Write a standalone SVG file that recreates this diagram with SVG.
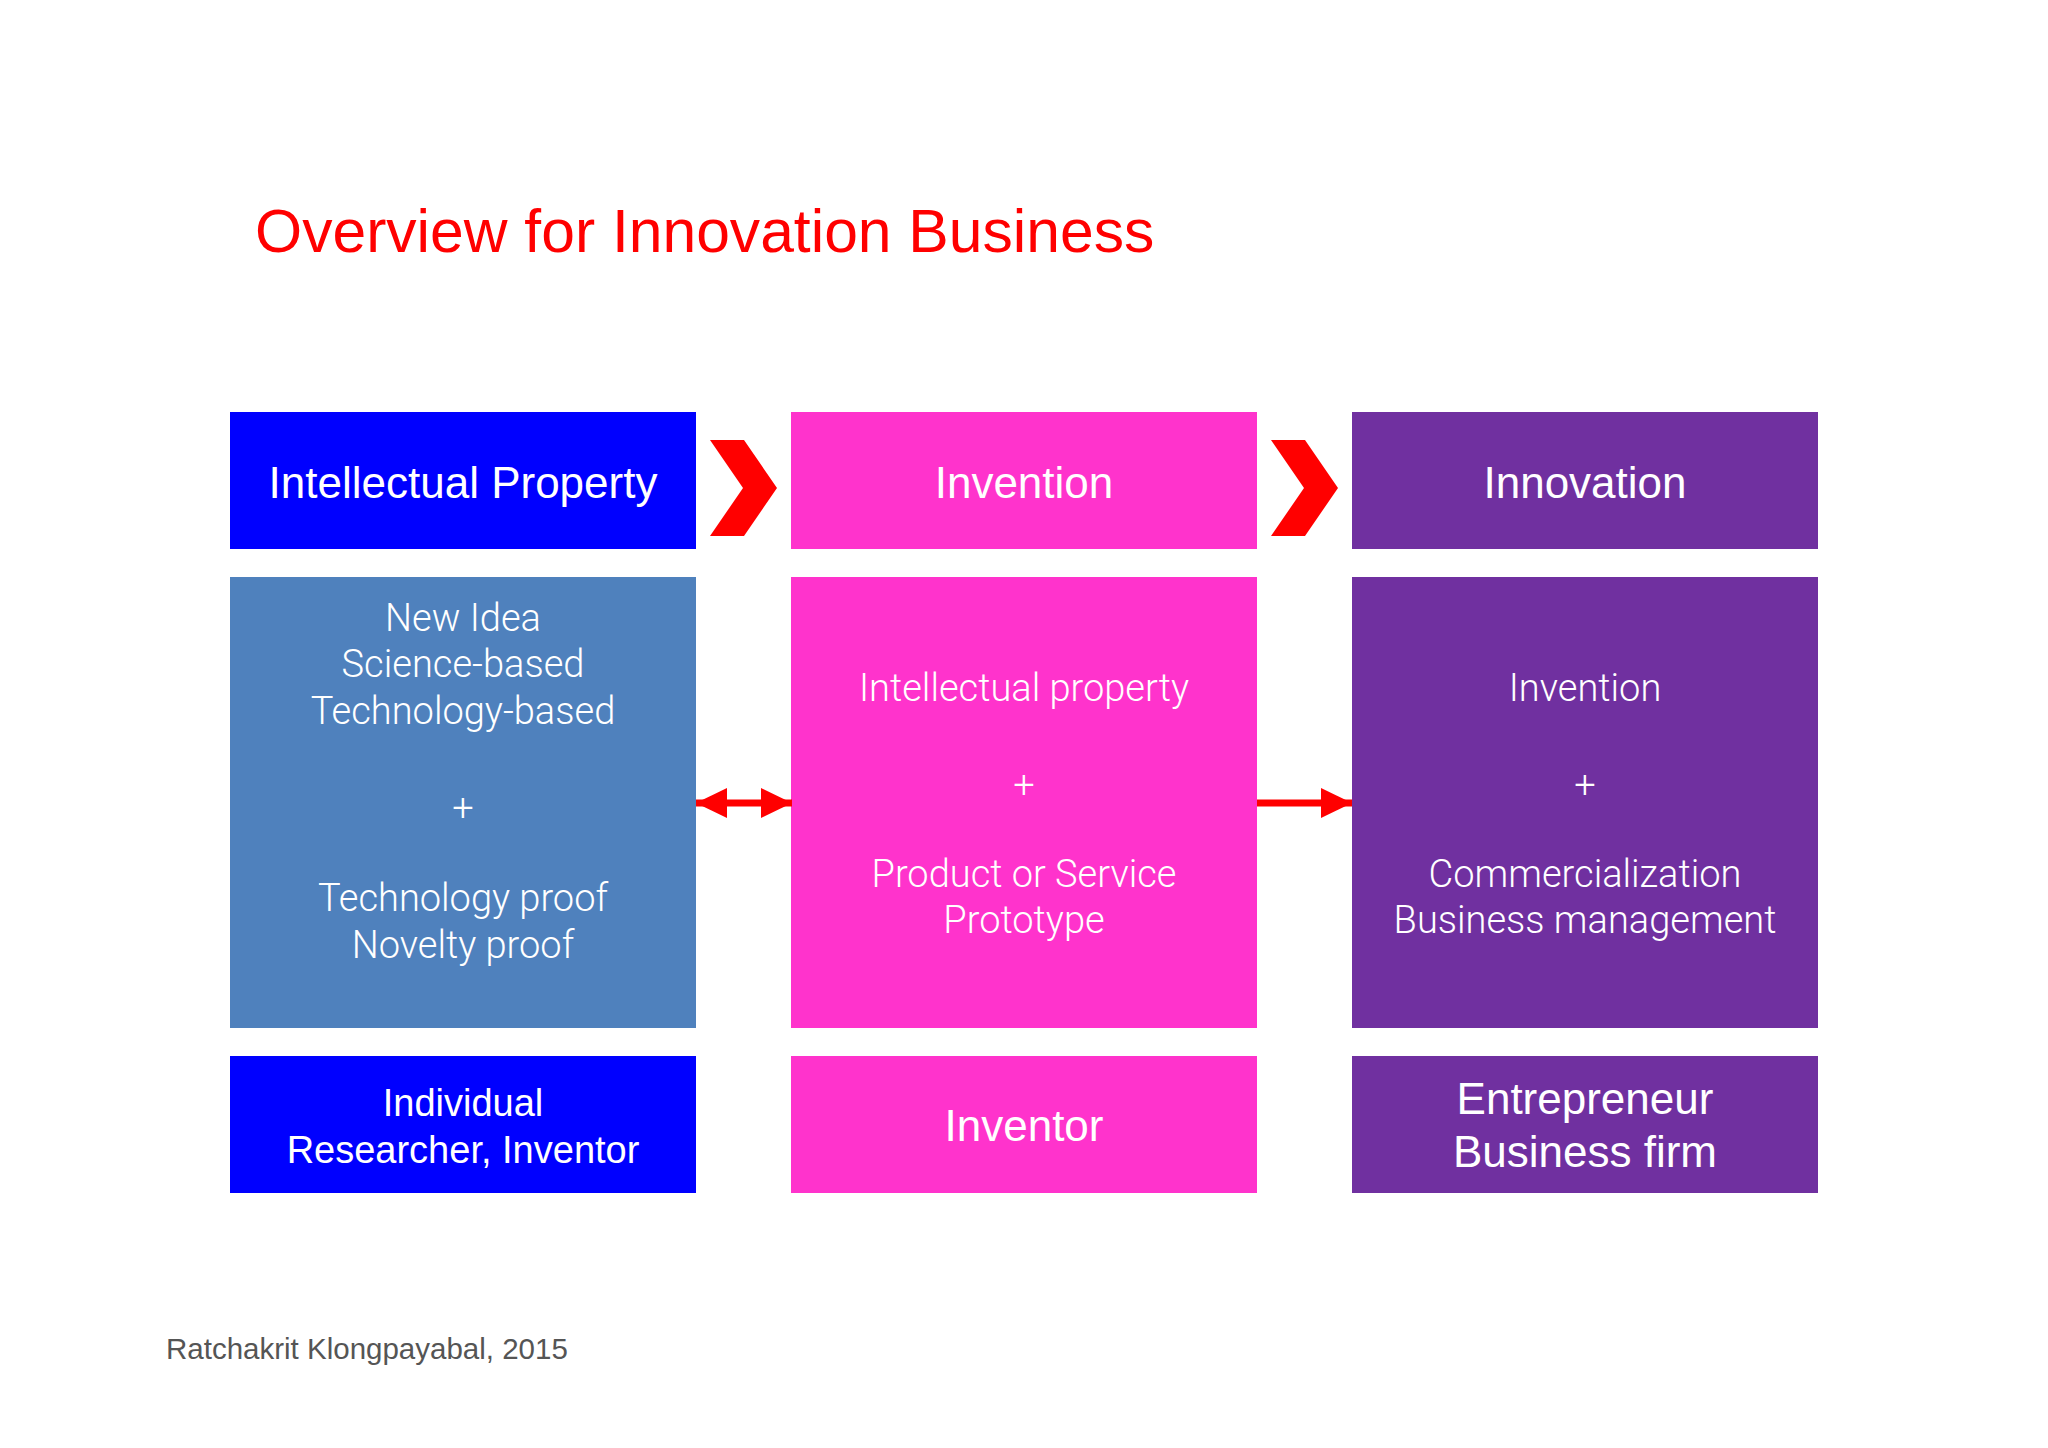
<svg xmlns="http://www.w3.org/2000/svg" width="2048" height="1448" viewBox="0 0 2048 1448">
  <style>
    .title { font-family: "Liberation Sans", Arial, sans-serif; font-size: 60.6px; fill: #FF0000; }
    .hdr { font-family: "Liberation Sans", Arial, sans-serif; font-size: 44px; fill: #FFFFFF; text-anchor: middle; }
    .body { font-family: Roboto, "Liberation Sans", sans-serif; font-weight: 300; font-size: 38px; fill: #FFFFFF; text-anchor: middle; }
    .foot { font-family: "Liberation Sans", Arial, sans-serif; font-size: 29.5px; fill: #555555; }
    .blue { fill: #0000FF; }
    .pink { fill: #FF33CC; }
    .purple { fill: #7030A0; }
    .steel { fill: #4F81BD; }
    .chev { fill: #FF0000; }
    .conn { stroke: #FF0000; stroke-width: 7; fill: none; }
  </style>
  <defs>
    <marker id="ah" viewBox="0 0 31 30" refX="31" refY="15" markerWidth="31" markerHeight="30" markerUnits="userSpaceOnUse" orient="auto-start-reverse">
      <path d="M0,0 L31,15 L0,30 Z" fill="#FF0000"/>
    </marker>
  </defs>
  <rect width="2048" height="1448" fill="#FFFFFF"/>

  <text class="title" x="255" y="252">Overview for Innovation Business</text>

  <g id="ip-header">
    <rect class="blue" x="230" y="412" width="466" height="137"/>
    <text class="hdr" x="463" y="498">Intellectual Property</text>
  </g>
  <g id="invention-header">
    <rect class="pink" x="791" y="412" width="466" height="137"/>
    <text class="hdr" x="1024" y="498">Invention</text>
  </g>
  <g id="innovation-header">
    <rect class="purple" x="1352" y="412" width="466" height="137"/>
    <text class="hdr" x="1585" y="498">Innovation</text>
  </g>

  <g id="ip-body">
    <rect class="steel" x="230" y="577" width="466" height="451"/>
    <text class="body" x="463" y="631">New Idea</text>
    <text class="body" x="463" y="677">Science-based</text>
    <text class="body" x="463" y="724">Technology-based</text>
    <text class="body" x="463" y="821">+</text>
    <text class="body" x="463" y="911">Technology proof</text>
    <text class="body" x="463" y="958">Novelty proof</text>
  </g>
  <g id="invention-body">
    <rect class="pink" x="791" y="577" width="466" height="451"/>
    <text class="body" x="1024" y="701">Intellectual property</text>
    <text class="body" x="1024" y="798">+</text>
    <text class="body" x="1024" y="887">Product or Service</text>
    <text class="body" x="1024" y="933">Prototype</text>
  </g>
  <g id="innovation-body">
    <rect class="purple" x="1352" y="577" width="466" height="451"/>
    <text class="body" x="1585" y="701">Invention</text>
    <text class="body" x="1585" y="798">+</text>
    <text class="body" x="1585" y="887">Commercialization</text>
    <text class="body" x="1585" y="933">Business management</text>
  </g>

  <g id="ip-actor">
    <rect class="blue" x="230" y="1056" width="466" height="137"/>
    <text class="hdr" x="463" y="1116" style="font-size:38px">Individual</text>
    <text class="hdr" x="463" y="1163" style="font-size:38px">Researcher, Inventor</text>
  </g>
  <g id="invention-actor">
    <rect class="pink" x="791" y="1056" width="466" height="137"/>
    <text class="hdr" x="1024" y="1141">Inventor</text>
  </g>
  <g id="innovation-actor">
    <rect class="purple" x="1352" y="1056" width="466" height="137"/>
    <text class="hdr" x="1585" y="1114">Entrepreneur</text>
    <text class="hdr" x="1585" y="1167">Business firm</text>
  </g>

  <g id="connectors">
    <polygon class="chev" points="710,440 744,440 777,488 744,536 710,536 743,488"/>
    <polygon class="chev" points="1271,440 1305,440 1338,488 1305,536 1271,536 1304,488"/>
    <path class="conn" d="M696,803 L792,803" marker-start="url(#ah)" marker-end="url(#ah)"/>
    <path class="conn" d="M1257,803 L1352,803" marker-end="url(#ah)"/>
  </g>

  <text class="foot" x="166" y="1359">Ratchakrit Klongpayabal, 2015</text>
</svg>
